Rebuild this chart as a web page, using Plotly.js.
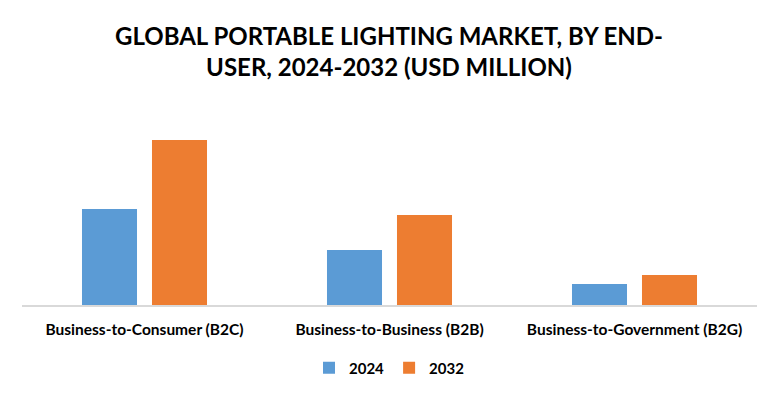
<!DOCTYPE html>
<html>
<head>
<meta charset="utf-8">
<script src="https://cdn.plot.ly/plotly-3.0.1.min.js"></script>
<style>html,body{margin:0;padding:0;background:#fff;}#chart{width:778px;height:398px;}</style>
</head>
<body>
<div id="chart"></div>
<script>
const categories = ["Business-to-Consumer (B2C)", "Business-to-Business (B2B)", "Business-to-Government (B2G)"];
const values2024 = [960, 550, 210];
const values2032 = [1650, 900, 300];
const seriesNames = ["2024", "2032"];
const titleText = "GLOBAL PORTABLE LIGHTING MARKET, BY END-<br>USER, 2024-2032 (USD MILLION)";

const fontFam = "Lato, 'Open Sans', sans-serif";
const data = [
  {type: "bar", name: seriesNames[0], x: categories, y: values2024, marker: {color: "#5b9bd5"}, hoverinfo: "y"},
  {type: "bar", name: seriesNames[1], x: categories, y: values2032, marker: {color: "#ed7d31"}, hoverinfo: "y"}
];
const layout = {
  width: 778, height: 398,
  paper_bgcolor: "#fff", plot_bgcolor: "#fff",
  margin: {l: 22, r: 21, t: 125, b: 93},
  barmode: "group", bargap: 0.4286, bargroupgap: 0.214,
  title: {text: titleText, x: 0.5, xanchor: "center", y: 0.888, yanchor: "middle",
          font: {family: fontFam, size: 24, color: "#000", weight: "bold"}},
  xaxis: {showline: true, linecolor: "#d9d9d9", linewidth: 2, ticks: "", showgrid: false,
          ticklabelstandoff: 9,
          tickfont: {family: fontFam, size: 15.5, color: "#000", weight: "bold"}},
  yaxis: {range: [0, 1800], visible: false, showgrid: false, zeroline: false, fixedrange: true},
  showlegend: true,
  legend: {orientation: "h", x: 0.5, xanchor: "center", y: -0.35, yanchor: "middle",
           font: {family: fontFam, size: 15, color: "#000", weight: "bold"}, itemwidth: 30, tracegroupgap: 0}
};
Plotly.newPlot("chart", data, layout, {displayModeBar: false, staticPlot: true});
</script>
</body>
</html>
